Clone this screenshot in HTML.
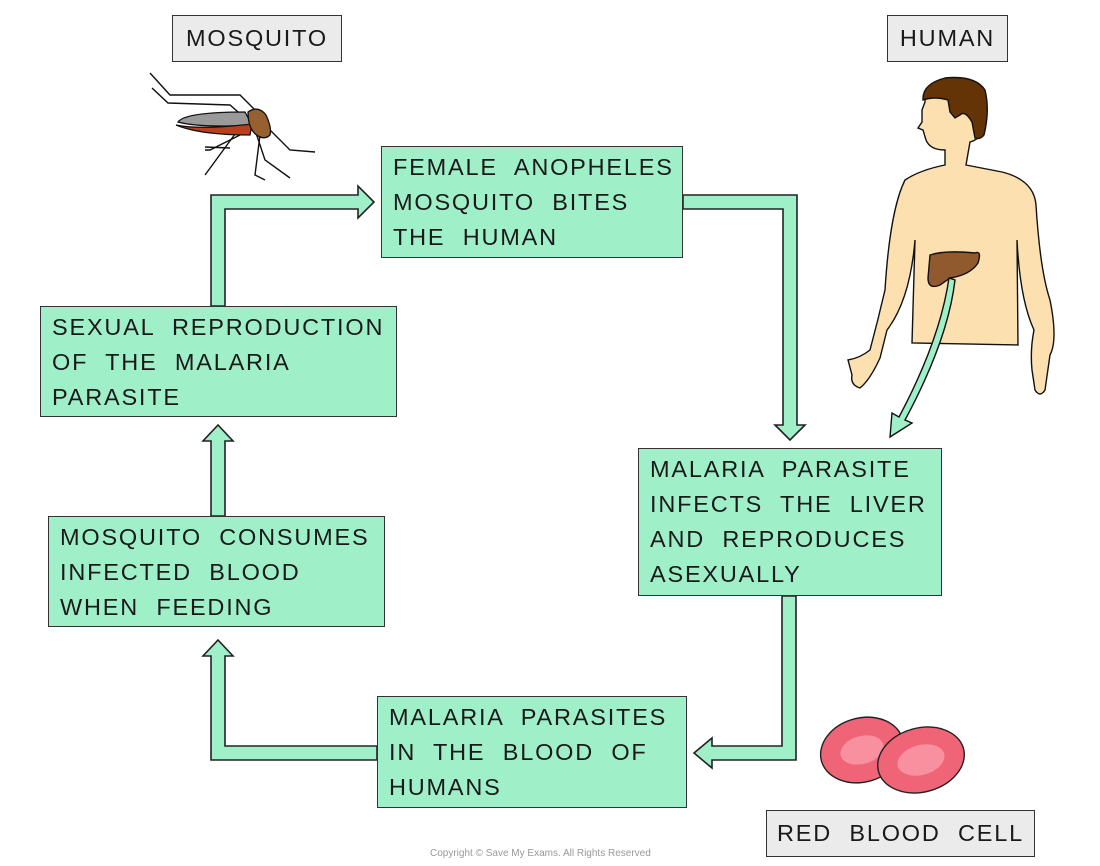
<!DOCTYPE html>
<html><head><meta charset="utf-8"><style>
html,body{margin:0;padding:0;background:#fff;}
body{width:1100px;height:866px;position:relative;overflow:hidden;font-family:"Liberation Sans",sans-serif;}
.b{position:absolute;background:#9ff0c9;border:1.5px solid #333;box-sizing:border-box;font-size:23.5px;color:#1a1a1a;letter-spacing:1.8px;word-spacing:9px;line-height:35px;padding:3px 0 0 11px;white-space:nowrap;}
.l{position:absolute;background:#ebebeb;border:1.5px solid #333;box-sizing:border-box;font-size:23.5px;color:#1a1a1a;letter-spacing:1.8px;word-spacing:9px;text-align:center;line-height:44px;white-space:nowrap;}
svg{position:absolute;left:0;top:0;}
</style></head><body>
<svg width="1100" height="866" viewBox="0 0 1100 866">
<g fill="#9ff0c9" stroke="#222" stroke-width="1.6" stroke-linejoin="miter">
<polygon points="211,306 211,195 358,195 358,186 374,202 358,218 358,209 225,209 225,306"/>
<polygon points="683,195 797,195 797,425 805,425 790,440 775,425 783,425 783,209 683,209"/>
<polygon points="782,596 782,746 712,746 712,738 694,753 712,768 712,760 796,760 796,596"/>
<polygon points="377,746 225,746 225,656 233,656 218,640 203,656 211,656 211,760 377,760"/>
<polygon points="211,516 211,441 203,441 218,425 233,441 225,441 225,516"/>
</g>
<g stroke="#111" stroke-width="1.4" fill="none">
<path d="M150,73 L170,95 L240,95 L255,110"/>
<path d="M152,88 L168,103 L230,105 L245,118"/>
<path d="M240,135 L210,150 L205,150"/><path d="M205,147 L230,148"/>
<path d="M238,130 L205,175"/><path d="M255,130 L265,160 L290,178"/>
<path d="M265,125 L290,150 L315,152"/><path d="M260,135 L255,175 L265,180"/>
</g>
<path d="M178,122 Q185,112 245,112 L252,125 Q200,128 178,122Z" fill="#9a9a9a" stroke="#111" stroke-width="1.3"/>
<path d="M176,125 Q200,130 252,124 L250,135 Q200,135 176,125Z" fill="#b8401c" stroke="#111" stroke-width="1.3"/>
<path d="M248,112 Q258,105 266,115 Q272,128 270,135 Q265,140 258,136 Q248,130 248,112Z" fill="#96612f" stroke="#111" stroke-width="1.3"/>
<g stroke="#111" stroke-width="1.4">
<path d="M925,102 Q925,90 935,85 Q955,78 975,85 Q990,100 983,132 Q978,140 970,142 L966,165 L1002,172 Q1034,180 1036,205 Q1040,270 1050,300 Q1058,340 1050,355 L1045,390 Q1040,398 1035,390 L1032,370 Q1030,350 1034,330 Q1020,300 1017,240 L1018,345 L912,343 L915,240 Q910,300 887,330 L880,358 Q870,380 860,388 Q850,385 852,375 L848,360 Q860,358 870,350 Q878,320 885,290 Q890,210 905,180 Q920,170 945,165 L945,150 Q930,150 926,140 L923,130 L918,128 L922,122 L922,110Z" fill="#fde0b0"/>
<path d="M923,100 Q922,84 945,78 Q975,75 985,90 Q990,110 984,135 Q980,140 975,138 L972,122 Q965,110 960,115 L955,118 L950,112 L948,100 Q935,96 923,100Z" fill="#643407"/>
<path d="M930,255 Q945,250 975,253 Q982,250 978,263 Q970,275 950,278 L940,285 Q928,290 928,278Z" fill="#915a2e"/>
<path d="M949,278 L955,280 Q948,340 905,420 L912,423 L890,437 L892,413 L899,417 Q940,340 949,278Z" fill="#9ff0c9"/>
</g>
<ellipse cx="862" cy="750" rx="42" ry="32" transform="rotate(-15 862 750)" fill="#f06478" stroke="#222" stroke-width="1.4"/>
<ellipse cx="862" cy="750" rx="22" ry="14" transform="rotate(-15 862 750)" fill="#f890a0"/>
<ellipse cx="921" cy="760" rx="44" ry="32" transform="rotate(-15 921 760)" fill="#f06478" stroke="#222" stroke-width="1.4"/>
<ellipse cx="921" cy="760" rx="24" ry="15" transform="rotate(-15 921 760)" fill="#f890a0"/>
</svg>
<div class="l" style="left:172px;top:15px;width:170px;height:47px;">MOSQUITO</div>
<div class="l" style="left:887px;top:15px;width:121px;height:47px;">HUMAN</div>
<div class="l" style="left:766px;top:810px;width:269px;height:47px;">RED BLOOD CELL</div>
<div class="b" style="left:381px;top:146px;width:302px;height:112px;">FEMALE ANOPHELES<br>MOSQUITO BITES<br>THE HUMAN</div>
<div class="b" style="left:40px;top:306px;width:357px;height:111px;">SEXUAL REPRODUCTION<br>OF THE MALARIA<br>PARASITE</div>
<div class="b" style="left:48px;top:516px;width:337px;height:111px;">MOSQUITO CONSUMES<br>INFECTED BLOOD<br>WHEN FEEDING</div>
<div class="b" style="left:638px;top:448px;width:304px;height:148px;">MALARIA PARASITE<br>INFECTS THE LIVER<br>AND REPRODUCES<br>ASEXUALLY</div>
<div class="b" style="left:377px;top:696px;width:310px;height:112px;">MALARIA PARASITES<br>IN THE BLOOD OF<br>HUMANS</div>
<div style="position:absolute;left:430px;top:848px;font-size:10px;color:#999;">Copyright © Save My Exams. All Rights Reserved</div>
</body></html>
